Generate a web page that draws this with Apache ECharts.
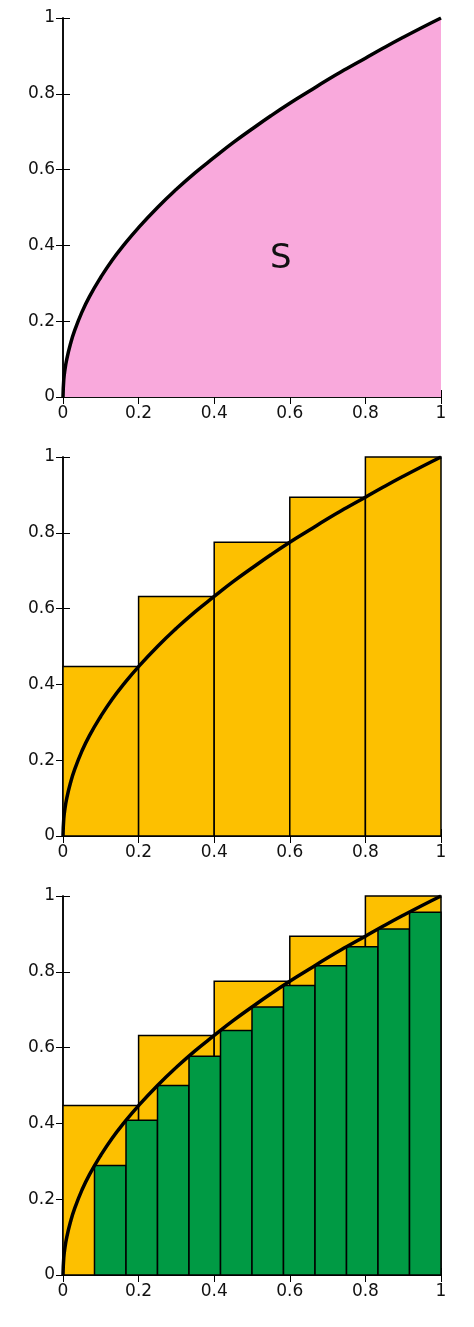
<!DOCTYPE html>
<html><head><meta charset="utf-8">
<script src="https://cdn.jsdelivr.net/npm/echarts@6/dist/echarts.min.js"></script>
<style>html,body{margin:0;padding:0;background:#fff}#c{width:474px;height:1327px}</style>
</head><body><div id="c"></div>
<script>
// curve y = sqrt(x)
var curveX = [0, 0.002, 0.005, 0.01, 0.02, 0.03, 0.05, 0.07, 0.1, 0.13, 0.16, 0.2, 0.25, 0.3, 0.35, 0.4, 0.45, 0.5, 0.55, 0.6, 0.65, 0.7, 0.75, 0.8, 0.85, 0.9, 0.95, 1];
var curveY = [0, 0.045, 0.071, 0.1, 0.141, 0.173, 0.224, 0.265, 0.316, 0.361, 0.4, 0.447, 0.5, 0.548, 0.592, 0.632, 0.671, 0.707, 0.742, 0.775, 0.806, 0.837, 0.866, 0.894, 0.922, 0.949, 0.975, 1];
// coarse upper bars (width 0.2)
var orangeX0 = [0, 0.2, 0.4, 0.6, 0.8];
var orangeX1 = [0.2, 0.4, 0.6, 0.8, 1];
var orangeH = [0.447, 0.632, 0.775, 0.894, 1];
// fine lower bars (width 1/12)
var greenX0 = [0.0833, 0.1667, 0.25, 0.3333, 0.4167, 0.5, 0.5833, 0.6667, 0.75, 0.8333, 0.9167];
var greenX1 = [0.1667, 0.25, 0.3333, 0.4167, 0.5, 0.5833, 0.6667, 0.75, 0.8333, 0.9167, 1];
var greenH = [0.289, 0.408, 0.5, 0.577, 0.645, 0.707, 0.764, 0.816, 0.866, 0.913, 0.957];
var ticks = [0, 0.2, 0.4, 0.6, 0.8, 1];

var curve = curveX.map(function (x, i) { return [x, curveY[i]]; });
function rects(x0, x1, h) { return x0.map(function (v, i) { return [v, x1[i], h[i]]; }); }

var tops = [18, 457, 896];
var grids = [], xAxes = [], yAxes = [], series = [];
var lab = { fontSize: 17, color: '#111', fontFamily: 'DejaVu Sans', margin: 8 };
var line = { lineStyle: { color: '#000', width: 1.5 } };
tops.forEach(function (t, g) {
  grids.push({ left: 63, top: t, width: 378, height: 379 });
  ['bottom', 'top'].forEach(function (p) {
    xAxes.push({ type: 'value', gridIndex: g, position: p, min: 0, max: 1, interval: 0.2,
      axisLine: line, axisTick: { show: true, length: 7, lineStyle: { color: '#000' } },
      axisLabel: Object.assign({ show: p === 'bottom' }, lab), splitLine: { show: false } });
  });
  ['left', 'right'].forEach(function (p) {
    yAxes.push({ type: 'value', gridIndex: g, position: p, min: 0, max: 1, interval: 0.2,
      axisLine: line, axisTick: { show: true, length: 7, lineStyle: { color: '#000' } },
      axisLabel: Object.assign({ show: p === 'left' }, lab), splitLine: { show: false } });
  });
});

function barSeries(g, data, color) {
  return { type: 'custom', xAxisIndex: g * 2, yAxisIndex: g * 2, data: data, silent: true,
    renderItem: function (params, api) {
      var a = api.coord([api.value(0), api.value(2)]);
      var b = api.coord([api.value(1), 0]);
      return { type: 'rect', shape: { x: a[0], y: a[1], width: b[0] - a[0], height: b[1] - a[1] },
        style: { fill: color, stroke: '#000', lineWidth: 1.5 } };
    } };
}
function curveSeries(g, area) {
  var s = { type: 'line', xAxisIndex: g * 2, yAxisIndex: g * 2, data: curve, smooth: true, symbol: 'none',
    lineStyle: { color: '#000', width: 3.5 }, z: 10, silent: true };
  if (area) s.areaStyle = { color: '#f9a9dc', opacity: 1 };
  return s;
}
series.push(curveSeries(0, true));
series.push(barSeries(1, rects(orangeX0, orangeX1, orangeH), '#fdc000'));
series.push(curveSeries(1, false));
series.push(barSeries(2, rects(orangeX0, orangeX1, orangeH), '#fdc000'));
series.push(barSeries(2, rects(greenX0, greenX1, greenH), '#009a44'));
series.push(curveSeries(2, false));

var chart = echarts.init(document.getElementById('c'));
chart.setOption({
  animation: false,
  grid: grids, xAxis: xAxes, yAxis: yAxes, series: series,
  graphic: [{ type: 'text', left: 270, top: 242, z: 20,
    style: { text: 'S', fontSize: 34, fontFamily: 'DejaVu Sans', fill: '#111' } }]
});
</script></body></html>
